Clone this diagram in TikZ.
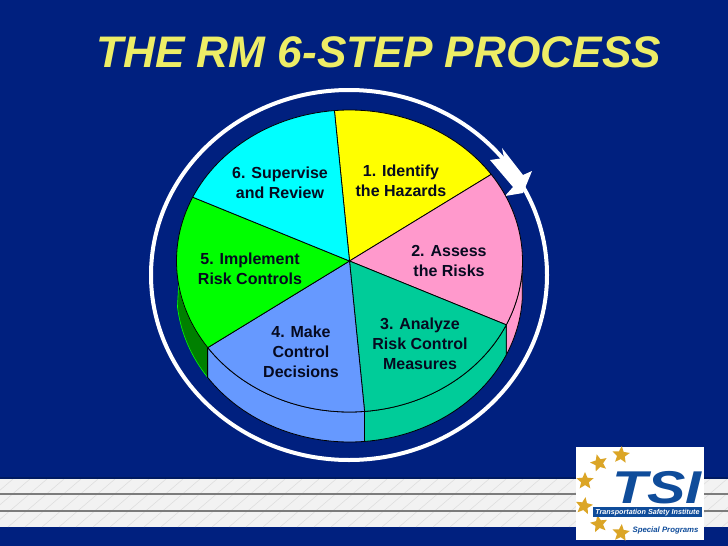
\documentclass[tikz,border=0pt]{standalone}
\usepackage{fontspec}
\usepackage{graphicx}
\setmainfont{Liberation Sans}
\usetikzlibrary{shapes.geometric}
\definecolor{navy}{HTML}{00207F}
\definecolor{navydark}{HTML}{001A60}
\definecolor{titley}{HTML}{EDED66}
\definecolor{cyanp}{HTML}{00FFFF}
\definecolor{yellowp}{HTML}{FFFF00}
\definecolor{pinkp}{HTML}{FF99CC}
\definecolor{tealp}{HTML}{00CC99}
\definecolor{bluep}{HTML}{6699FF}
\definecolor{greenp}{HTML}{00FF00}
\definecolor{darkgreenp}{HTML}{008000}
\definecolor{labelc}{HTML}{060A20}
\definecolor{band}{HTML}{F2F2F2}
\definecolor{hatch}{HTML}{DEDEDE}
\definecolor{bandline}{HTML}{7C7C7C}
\definecolor{gold}{HTML}{DBA526}
\definecolor{tsiblue}{HTML}{0F4C9A}
\tikzset{
  wedge/.style={draw=black,line width=0.8pt,line join=round},
  steplabel/.style={text=labelc,font=\fontsize{16}{20}\selectfont\bfseries,align=center,inner sep=0pt},
  goldstar/.style={star,star points=5,star point ratio=2.2,fill=gold,inner sep=0pt,minimum size=18pt},
}
\begin{document}
\begin{tikzpicture}[x=1pt,y=1pt,yscale=-1]
\useasboundingbox (0,0) rectangle (728,546);
\fill[navy] (0,0) rectangle (728,546);
% title
\node[anchor=base west,inner sep=0pt,text=titley,font=\fontsize{44.2}{50}\selectfont\bfseries\itshape] (title) at (96,67) {THE RM 6-STEP PROCESS};
% ring and arrow
\draw[white,line width=4pt] (349,275) ellipse [x radius=198,y radius=185];
\fill[white] (490,160) -- (504,158) -- (502,148) -- (523,175) -- (532,171) -- (523,193) -- (505,196) -- (513,187) -- cycle;
% pie
\begin{scope}[shift={(349.5,261)}]
  % sides
  \path[fill=pinkp,wedge] (25:173pt and 151pt) -- ++(0,30) arc[start angle=25,end angle=3,x radius=173pt,y radius=151pt] -- ++(0,-30) arc[start angle=3,end angle=25,x radius=173pt,y radius=151pt] -- cycle;
  \path[fill=tealp,wedge] (85:173pt and 151pt) -- ++(0,30) arc[start angle=85,end angle=25,x radius=173pt,y radius=151pt] -- ++(0,-30) arc[start angle=25,end angle=85,x radius=173pt,y radius=151pt] -- cycle;
  \path[fill=bluep,wedge] (145:173pt and 151pt) -- ++(0,30) arc[start angle=145,end angle=85,x radius=173pt,y radius=151pt] -- ++(0,-30) arc[start angle=85,end angle=145,x radius=173pt,y radius=151pt] -- cycle;
  \path[fill=darkgreenp,draw=greenp,line width=0.6pt] (171:173pt and 151pt) arc[start angle=171,end angle=145,x radius=173pt,y radius=151pt] -- ++(0,30) arc[start angle=145,end angle=174,x radius=173pt,y radius=151pt] -- cycle;
  \draw[black,line width=0.8pt] (145:173pt and 151pt) -- ++(0,30);
  % top wedges (screen angle t is written as -t because y points down)
  \filldraw[wedge,fill=yellowp] (0,0) -- (-35:173pt and 151pt) arc[start angle=-35,end angle=-95,x radius=173pt,y radius=151pt] -- cycle;
  \filldraw[wedge,fill=pinkp] (0,0) -- (25:173pt and 151pt) arc[start angle=25,end angle=-35,x radius=173pt,y radius=151pt] -- cycle;
  \filldraw[wedge,fill=tealp] (0,0) -- (85:173pt and 151pt) arc[start angle=85,end angle=25,x radius=173pt,y radius=151pt] -- cycle;
  \filldraw[wedge,fill=bluep] (0,0) -- (145:173pt and 151pt) arc[start angle=145,end angle=85,x radius=173pt,y radius=151pt] -- cycle;
  \filldraw[wedge,fill=greenp] (0,0) -- (205:173pt and 151pt) arc[start angle=205,end angle=145,x radius=173pt,y radius=151pt] -- cycle;
  \filldraw[wedge,fill=cyanp] (0,0) -- (265:173pt and 151pt) arc[start angle=265,end angle=205,x radius=173pt,y radius=151pt] -- cycle;
\end{scope}
% labels
\node[steplabel] (s1) at (401,181) {1. Identify\\the Hazards};
\node[steplabel] (s2) at (449,261) {2. Assess\\the Risks};
\node[steplabel] (s3) at (420,344) {3. Analyze\\Risk Control\\Measures};
\node[steplabel] (s4) at (301,352) {4. Make\\Control\\Decisions};
\node[steplabel] (s5) at (250,269) {5. Implement\\Risk Controls};
\node[steplabel] (s6) at (280,183) {6. Supervise\\and Review};
% bottom band
\fill[navydark] (0,476.5) rectangle (728,479);
\begin{scope}
  \clip (0,479) rectangle (728,527);
  \fill[band] (0,479) rectangle (728,527);
  \foreach \hx in {-60,-43,...,740} {
    \draw[hatch,line width=0.6pt] (\hx,527) -- (\hx+56,479);
  }
\end{scope}
\draw[bandline,line width=1.3pt] (0,494) -- (728,494);
\draw[bandline,line width=1.3pt] (0,511) -- (728,511);
% logo
\fill[white] (576,447) rectangle (704,540);
\node[goldstar,rotate=-5] (st1) at (621,455) {};
\node[goldstar,rotate=15] (st2) at (599,463) {};
\node[goldstar,rotate=0] (st3) at (585,481) {};
\node[goldstar,rotate=-10] (st4) at (584,506) {};
\node[goldstar,rotate=10] (st5) at (599,524) {};
\node[goldstar,rotate=-5] (st6) at (621,533) {};
\node[anchor=base,inner sep=0pt,text=tsiblue,font=\fontsize{46}{46}\selectfont\bfseries\itshape] (tsi) at (657,503.5) {\scalebox{1.25}[1]{TSI}};
\fill[tsiblue] (593,507) rectangle (702,517);
\node[inner sep=0pt,text=white,font=\fontsize{7.2}{7.2}\selectfont\bfseries\itshape] (tsiname) at (647.5,512.3) {Transportation Safety Institute};
\node[inner sep=0pt,text=tsiblue,font=\fontsize{7.8}{8}\selectfont\bfseries\itshape] (tsiprog) at (665.5,530.5) {Special Programs};
\end{tikzpicture}
\end{document}
